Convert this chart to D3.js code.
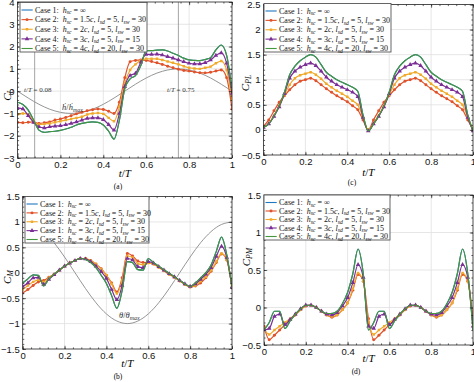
<!DOCTYPE html>
<html lang="en">
<head>
<meta charset="UTF-8">
<script src="https://cdn.jsdelivr.net/npm/d3@7"></script>
<style>
  body { margin: 0; background: #fff; }
  svg { display: block; font-family: "Liberation Serif", "DejaVu Serif", serif; }
  text { white-space: pre; }
</style>
</head>
<body>
<svg width="474" height="382"></svg>
<script>
// time grid shared by all case curves
const tGrid = [0,0.025,0.05,0.075,0.1,0.125,0.15,0.175,0.2,0.225,0.25,0.275,0.3,0.325,0.35,0.375,0.4,0.425,0.45,0.475,
  0.5,0.525,0.55,0.575,0.6,0.625,0.65,0.675,0.7,0.725,0.75,0.775,0.8,0.825,0.85,0.875,0.9,0.925,0.95,0.975,1];
const refT = [0,0.05,0.1,0.15,0.2,0.25,0.3,0.35,0.4,0.45,0.5,0.55,0.6,0.65,0.7,0.75,0.8,0.85,0.9,0.95,1];

// reference kinematics (grey curves)
const hdotRef = [0,-0.31,-0.59,-0.81,-0.95,-1,-0.95,-0.81,-0.59,-0.31,0,0.31,0.59,0.81,0.95,1,0.95,0.81,0.59,0.31,0];
const thetaRef = [1,0.95,0.81,0.59,0.31,0,-0.31,-0.59,-0.81,-0.95,-1,-0.95,-0.81,-0.59,-0.31,0,0.31,0.59,0.81,0.95,1];

// (a) lift coefficient C_L
const clCase1 = [-0.5,-0.6,-0.85,-1.3,-1.75,-1.85,-1.82,-1.8,-1.76,-1.7,-1.62,-1.52,-1.45,-1.4,-1.38,-1.4,-1.52,-1.8,-2.15,-1.3,
  0.1,0.55,0.7,1.15,1.82,1.82,1.84,1.85,1.8,1.7,1.6,1.48,1.4,1.38,1.37,1.42,1.5,1.85,2.07,1.6,0.05];
const clCase2 = [-1.4,-1.42,-1.4,-1.38,-1.45,-1.42,-1.38,-1.3,-1.25,-1.18,-1.1,-1.02,-0.95,-0.88,-0.83,-0.8,-0.82,-0.9,-1.0,-0.5,
  0.6,1.32,1.38,1.4,1.38,1.33,1.27,1.2,1.12,1.05,0.98,0.93,0.9,0.86,0.83,0.82,0.85,0.9,0.95,0.6,-0.8];
const clCase3 = [-1.05,-1.0,-1.05,-1.35,-1.5,-1.48,-1.45,-1.4,-1.35,-1.3,-1.25,-1.2,-1.15,-1.05,-1.0,-0.98,-1.02,-1.2,-1.35,-0.7,
  0.35,0.95,1.2,1.38,1.45,1.45,1.45,1.4,1.33,1.27,1.2,1.12,1.05,1.02,1.0,1.05,1.1,1.25,1.35,0.95,-0.4];
const clCase4 = [-0.75,-0.8,-1.1,-1.4,-1.6,-1.65,-1.6,-1.57,-1.55,-1.5,-1.45,-1.38,-1.3,-1.22,-1.2,-1.2,-1.28,-1.5,-1.75,-1.0,
  0.2,0.7,0.8,1.3,1.65,1.65,1.66,1.62,1.55,1.48,1.4,1.32,1.25,1.22,1.22,1.28,1.4,1.6,1.72,1.25,-0.1];
const clCase5 = [-0.5,-0.6,-0.85,-1.3,-1.75,-1.85,-1.82,-1.8,-1.76,-1.7,-1.62,-1.52,-1.45,-1.4,-1.38,-1.4,-1.52,-1.8,-2.15,-1.3,
  0.1,0.55,0.7,1.15,1.82,1.82,1.84,1.85,1.8,1.7,1.6,1.48,1.4,1.38,1.37,1.42,1.5,1.85,2.07,1.6,0.05];

// (c) lift power coefficient C_PL
const cplCase1 = [0.05,0.12,0.28,0.48,0.75,1.1,1.27,1.38,1.45,1.5,1.45,1.3,1.15,1.07,1.0,0.95,0.9,0.85,0.77,0.3,
  -0.02,0.12,0.28,0.48,0.75,1.1,1.27,1.38,1.45,1.5,1.45,1.3,1.15,1.07,1.0,0.95,0.9,0.85,0.77,0.3,-0.02];
const cplCase2 = [0.07,0.2,0.38,0.55,0.68,0.8,0.9,0.97,1.0,1.03,0.98,0.9,0.82,0.75,0.68,0.62,0.56,0.48,0.4,0.2,
  0.0,0.2,0.38,0.55,0.68,0.8,0.9,0.97,1.0,1.03,0.98,0.9,0.82,0.75,0.68,0.62,0.56,0.48,0.4,0.2,0.0];
const cplCase3 = [0.05,0.13,0.28,0.47,0.7,0.9,1.03,1.09,1.12,1.15,1.1,1.02,0.92,0.85,0.78,0.72,0.66,0.58,0.5,0.25,
  0.0,0.13,0.28,0.47,0.7,0.9,1.03,1.09,1.12,1.15,1.1,1.02,0.92,0.85,0.78,0.72,0.66,0.58,0.5,0.25,0.0];
const cplCase4 = [0.05,0.12,0.27,0.46,0.72,1.03,1.17,1.25,1.3,1.33,1.28,1.17,1.05,0.97,0.9,0.85,0.8,0.75,0.66,0.25,
  -0.02,0.12,0.27,0.46,0.72,1.03,1.17,1.25,1.3,1.33,1.28,1.17,1.05,0.97,0.9,0.85,0.8,0.75,0.66,0.25,-0.02];
const cplCase5 = [0.05,0.12,0.28,0.48,0.75,1.1,1.27,1.38,1.45,1.5,1.45,1.3,1.15,1.07,1.0,0.95,0.9,0.85,0.77,0.3,
  -0.02,0.12,0.28,0.48,0.75,1.1,1.27,1.38,1.45,1.5,1.45,1.3,1.15,1.07,1.0,0.95,0.9,0.85,0.77,0.3,-0.02];

// (b) moment coefficient C_M
const cmCase1 = [-0.2,-0.12,-0.04,-0.05,-0.26,-0.12,-0.03,0.05,0.13,0.19,0.24,0.28,0.26,0.2,0.1,-0.05,-0.21,-0.45,-0.7,-0.35,
  0.22,0.2,0.06,0.05,0.28,0.2,0.13,0.06,-0.01,-0.08,-0.15,-0.22,-0.27,-0.2,-0.1,0.0,0.15,0.42,0.7,0.35,-0.3];
const cmCase2 = [-0.4,-0.33,-0.25,-0.18,-0.15,-0.09,-0.03,0.05,0.13,0.19,0.24,0.28,0.28,0.24,0.17,0.08,-0.05,-0.2,-0.38,-0.1,
  0.38,0.33,0.23,0.2,0.2,0.17,0.11,0.04,-0.03,-0.09,-0.16,-0.23,-0.28,-0.26,-0.2,-0.1,0.03,0.2,0.37,0.25,-0.3];
const cmCase3 = [-0.33,-0.25,-0.18,-0.14,-0.18,-0.1,-0.03,0.05,0.13,0.19,0.24,0.28,0.28,0.24,0.17,0.07,-0.05,-0.22,-0.41,-0.15,
  0.33,0.3,0.18,0.16,0.19,0.17,0.11,0.04,-0.03,-0.09,-0.16,-0.23,-0.28,-0.25,-0.17,-0.08,0.05,0.22,0.38,0.25,-0.25];
const cmCase4 = [-0.27,-0.2,-0.1,-0.09,-0.23,-0.13,-0.04,0.05,0.13,0.19,0.24,0.28,0.27,0.22,0.13,0.02,-0.11,-0.33,-0.53,-0.25,
  0.28,0.25,0.12,0.1,0.22,0.19,0.12,0.05,-0.02,-0.08,-0.15,-0.22,-0.27,-0.22,-0.13,-0.03,0.1,0.32,0.52,0.3,-0.28];
const cmCase5 = [-0.2,-0.12,-0.04,-0.05,-0.26,-0.12,-0.03,0.05,0.13,0.19,0.24,0.28,0.26,0.2,0.1,-0.05,-0.21,-0.45,-0.7,-0.35,
  0.22,0.2,0.06,0.05,0.28,0.2,0.13,0.06,-0.01,-0.08,-0.15,-0.22,-0.27,-0.2,-0.1,0.0,0.15,0.42,0.7,0.35,-0.3];

// (d) moment power coefficient C_PM
const cpmCase1 = [-0.3,-0.2,-0.05,-0.05,-0.28,-0.18,-0.09,-0.02,0.03,0.03,0.0,-0.05,-0.08,-0.08,-0.05,0.05,0.2,0.45,0.78,0.45,
  -0.3,-0.2,-0.05,-0.05,-0.28,-0.18,-0.09,-0.02,0.03,0.03,0.0,-0.05,-0.08,-0.08,-0.05,0.05,0.2,0.45,0.78,0.45,-0.3];
const cpmCase2 = [-0.25,-0.43,-0.37,-0.3,-0.23,-0.16,-0.1,-0.03,0.02,0.03,0.0,-0.05,-0.1,-0.13,-0.1,-0.03,0.06,0.23,0.44,0.35,
  -0.15,-0.43,-0.37,-0.3,-0.23,-0.16,-0.1,-0.03,0.02,0.03,0.0,-0.05,-0.1,-0.13,-0.1,-0.03,0.06,0.23,0.44,0.35,-0.15];
const cpmCase3 = [-0.28,-0.36,-0.3,-0.25,-0.2,-0.15,-0.09,-0.03,0.02,0.03,0.0,-0.05,-0.1,-0.12,-0.1,-0.03,0.06,0.25,0.46,0.35,
  -0.2,-0.36,-0.3,-0.25,-0.2,-0.15,-0.09,-0.03,0.02,0.03,0.0,-0.05,-0.1,-0.12,-0.1,-0.03,0.06,0.25,0.46,0.35,-0.2];
const cpmCase4 = [-0.3,-0.28,-0.12,-0.09,-0.23,-0.16,-0.09,-0.02,0.03,0.03,0.0,-0.05,-0.09,-0.1,-0.07,0.02,0.13,0.33,0.57,0.4,
  -0.25,-0.28,-0.12,-0.09,-0.23,-0.16,-0.09,-0.02,0.03,0.03,0.0,-0.05,-0.09,-0.1,-0.07,0.02,0.13,0.33,0.57,0.4,-0.25];
const cpmCase5 = [-0.3,-0.2,-0.05,-0.05,-0.28,-0.18,-0.09,-0.02,0.03,0.03,0.0,-0.05,-0.08,-0.08,-0.05,0.05,0.2,0.45,0.78,0.45,
  -0.3,-0.2,-0.05,-0.05,-0.28,-0.18,-0.09,-0.02,0.03,0.03,0.0,-0.05,-0.08,-0.08,-0.05,0.05,0.2,0.45,0.78,0.45,-0.3];

// tick labels
const xTicks = [0, 0.2, 0.4, 0.6, 0.8, 1];
const yTicksCL = [-3, -2, -1, 0, 1, 2, 3, 4];
const yTicksCPL = [-0.5, 0, 0.5, 1, 1.5, 2, 2.5];
const yTicksCM = [-1.5, -1, -0.5, 0, 0.5, 1, 1.5];
const yTicksCPM = [-0.5, 0, 0.5, 1, 1.5];

// legend entries (markup: *italic*, _{subscript})
const legendMain = [
  "Case 1:  *h*_{sc} = ∞",
  "Case 2:  *h*_{sc} = 1.5*c*, *l*_{sd} = 5, *l*_{sw} = 30",
  "Case 3:  *h*_{sc} = 2*c*, *l*_{sd} = 5, *l*_{sw} = 30",
  "Case 4:  *h*_{sc} = 3*c*, *l*_{sd} = 5, *l*_{sw} = 15",
  "Case 5:  *h*_{sc} = 4*c*, *l*_{sd} = 20, *l*_{sw} = 30"
];
const legendB = [
  "Case 1:  *h*_{sc} = ∞",
  "Case 2:  *h*_{sc} = 1.5*c*, *l*_{sd} = 5, *l*_{sw} = 30",
  "Case 3:  *h*_{sc} = 2*c*, *l*_{sd} = 5, *l*_{sw} = 30",
  "Case 1:  *h*_{sc} = 3*c*, *l*_{sd} = 5, *l*_{sw} = 15",
  "Case 5:  *h*_{sc} = 4*c*, *l*_{sd} = 20, *l*_{sw} = 30"
];

const colors = ["#1f77c0", "#e0522a", "#f0a928", "#7b2f95", "#45963c"];
const markers = [null, d3.symbolCircle, d3.symbolSquare, d3.symbolTriangle, null];
const markerSize = [0, 7, 6, 9, 0];

const svg = d3.select("svg");

// small markup renderer: *italic* and _{subscript}
function rich(textSel, str, size) {
  const parts = str.split(/(\*[^*]+\*|_\{[^}]+\})/).filter(s => s.length);
  let shift = 0;
  parts.forEach(p => {
    let txt = p, italic = false, sub = false;
    if (p[0] === "*") { txt = p.slice(1, -1); italic = true; }
    else if (p.startsWith("_{")) { txt = p.slice(2, -1); italic = true; sub = true; }
    const want = sub ? size * 0.22 : 0;
    textSel.append("tspan")
      .attr("dy", want - shift)
      .style("font-style", italic ? "italic" : "normal")
      .style("font-size", (sub ? size * 0.7 : size) + "px")
      .text(txt);
    shift = want;
  });
}

function drawPanel(p) {
  const x = d3.scaleLinear().domain([0, 1]).range([p.left, p.right]);
  const y = d3.scaleLinear().domain(p.yDomain).range([p.bottom, p.top]);
  const g = svg.append("g");

  svg.append("clipPath").attr("id", "clip-" + p.id)
    .append("rect").attr("x", p.left).attr("y", p.top)
    .attr("width", p.right - p.left).attr("height", p.bottom - p.top);

  // grid
  g.append("g").selectAll("line").data(xTicks.slice(1, -1)).join("line")
    .attr("x1", d => x(d)).attr("x2", d => x(d))
    .attr("y1", p.top).attr("y2", p.bottom)
    .attr("stroke", "#e0e0e0").attr("stroke-width", 0.8);
  g.append("g").selectAll("line").data(p.yTicks.slice(1, -1)).join("line")
    .attr("x1", p.left).attr("x2", p.right)
    .attr("y1", d => y(d)).attr("y2", d => y(d))
    .attr("stroke", "#e0e0e0").attr("stroke-width", 0.8);

  const plot = g.append("g").attr("clip-path", `url(#clip-${p.id})`);

  // vertical markers
  (p.vlines || []).forEach(v => {
    plot.append("line").attr("x1", x(v)).attr("x2", x(v))
      .attr("y1", p.top).attr("y2", p.bottom)
      .attr("stroke", "#9a9a9a").attr("stroke-width", 0.9);
  });

  // reference curve
  if (p.ref) {
    const refLine = d3.line().x((d, i) => x(refT[i])).y(d => y(d)).curve(d3.curveNatural);
    plot.append("path").attr("d", refLine(p.ref))
      .attr("fill", "none").attr("stroke", "#8a8a8a").attr("stroke-width", 0.9);
  }

  // case curves
  const line = d3.line().x((d, i) => x(tGrid[i])).y(d => y(d)).curve(d3.curveMonotoneX);
  p.series.forEach((s, k) => {
    plot.append("path").attr("d", line(s))
      .attr("fill", "none").attr("stroke", colors[k]).attr("stroke-width", 1.2);
    if (markers[k]) {
      const sym = d3.symbol().type(markers[k]).size(markerSize[k]);
      plot.append("g").selectAll("path").data(s).join("path")
        .attr("transform", (d, i) => `translate(${x(tGrid[i])},${y(d)})`)
        .attr("d", sym).attr("fill", colors[k]);
    }
  });

  // annotations
  (p.notes || []).forEach(n => {
    const t = g.append("text").attr("x", n.x).attr("y", n.y).attr("fill", "#333");
    rich(t, n.text, n.size);
  });

  // axes (ticks inward on all sides)
  const xMinor = d3.range(0, 1.0001, 0.04);
  const yMinor = d3.range(p.yDomain[0], p.yDomain[1] + 1e-6, p.minor);
  const fmt = d => d3.format("")(d);
  const styleAxis = a => {
    a.select(".domain").remove();
    a.selectAll("line").attr("stroke", "#222").attr("stroke-width", 0.7);
    a.selectAll("text").attr("font-family", null).attr("font-size", null)
      .style("font-size", "9.5px").attr("fill", "#111");
  };
  g.append("g").attr("transform", `translate(0,${p.bottom})`)
    .call(d3.axisBottom(x).tickValues(xMinor).tickSize(-1.6).tickFormat("")).call(styleAxis);
  g.append("g").attr("transform", `translate(0,${p.bottom})`)
    .call(d3.axisBottom(x).tickValues(xTicks).tickSize(-3.2).tickPadding(3).tickFormat(fmt)).call(styleAxis);
  g.append("g").attr("transform", `translate(0,${p.top})`)
    .call(d3.axisTop(x).tickValues(xMinor).tickSize(-1.6).tickFormat("")).call(styleAxis);
  g.append("g").attr("transform", `translate(0,${p.top})`)
    .call(d3.axisTop(x).tickValues(xTicks).tickSize(-3.2).tickFormat("")).call(styleAxis);
  g.append("g").attr("transform", `translate(${p.left},0)`)
    .call(d3.axisLeft(y).tickValues(yMinor).tickSize(-1.6).tickFormat("")).call(styleAxis);
  g.append("g").attr("transform", `translate(${p.left},0)`)
    .call(d3.axisLeft(y).tickValues(p.yTicks).tickSize(-3.2).tickPadding(3).tickFormat(fmt)).call(styleAxis);
  g.append("g").attr("transform", `translate(${p.right},0)`)
    .call(d3.axisRight(y).tickValues(yMinor).tickSize(-1.6).tickFormat("")).call(styleAxis);
  g.append("g").attr("transform", `translate(${p.right},0)`)
    .call(d3.axisRight(y).tickValues(p.yTicks).tickSize(-3.2).tickFormat("")).call(styleAxis);

  g.append("rect").attr("x", p.left).attr("y", p.top)
    .attr("width", p.right - p.left).attr("height", p.bottom - p.top)
    .attr("fill", "none").attr("stroke", "#222").attr("stroke-width", 0.8);

  // axis titles
  const xt = g.append("text").attr("x", (p.left + p.right) / 2).attr("y", p.xTitleY)
    .attr("text-anchor", "middle");
  rich(xt, "*t*/*T*", 11);
  const yt = g.append("text")
    .attr("transform", `translate(${p.yTitleX},${p.yTitleY}) rotate(-90)`)
    .attr("text-anchor", "middle");
  rich(yt, p.yTitle, 11);
  g.append("text").attr("x", p.tagX).attr("y", p.tagY).attr("text-anchor", "middle")
    .style("font-size", "7.5px").text(p.tag);

  // legend
  const L = p.legend;
  const lg = g.append("g").attr("transform", `translate(${L.x},${L.y})`);
  lg.append("rect").attr("width", L.w).attr("height", L.h)
    .attr("fill", "#fff").attr("stroke", "#555").attr("stroke-width", 0.9);
  L.labels.forEach((lab, k) => {
    const ry = 7.5 + k * (L.h - 11) / 4;
    lg.append("line").attr("x1", 1.5).attr("x2", 12.7).attr("y1", ry).attr("y2", ry)
      .attr("stroke", colors[k]).attr("stroke-width", 1.1);
    if (markers[k]) {
      lg.append("path").attr("transform", `translate(7,${ry})`)
        .attr("d", d3.symbol().type(markers[k]).size(markerSize[k])).attr("fill", colors[k]);
    }
    const t = lg.append("text").attr("x", 15).attr("y", ry + 2.7).attr("fill", "#111");
    rich(t, lab, 8.0);
  });
}

drawPanel({
  id: "a", left: 17.5, right: 232, top: 2, bottom: 158, yDomain: [-3, 4], yTicks: yTicksCL, minor: 0.2,
  series: [clCase1, clCase2, clCase3, clCase4, clCase5], ref: hdotRef, vlines: [0.08, 0.75],
  notes: [
    { x: 24, y: 92, text: "*t*/*T* = 0.08", size: 7 },
    { x: 167, y: 92, text: "*t*/*T* = 0.75", size: 7 },
    { x: 62, y: 110, text: "*ḣ*/*ḣ*_{max}", size: 8.5 }
  ],
  xTitleY: 177, yTitleX: 10.5, yTitleY: 95, yTitle: "*C*_{L}", tag: "(a)", tagX: 118, tagY: 189,
  legend: { x: 20, y: 2.5, w: 127, h: 49.5, labels: legendMain }
});
drawPanel({
  id: "c", left: 263.5, right: 473, top: 4.5, bottom: 155, yDomain: [-0.5, 2.5], yTicks: yTicksCPL, minor: 0.1,
  series: [cplCase1, cplCase2, cplCase3, cplCase4, cplCase5],
  xTitleY: 176, yTitleX: 249, yTitleY: 83, yTitle: "*C*_{PL}", tag: "(c)", tagX: 352, tagY: 185,
  legend: { x: 264, y: 3.5, w: 127, h: 48.5, labels: legendMain }
});
drawPanel({
  id: "b", left: 22.7, right: 232, top: 196.5, bottom: 349, yDomain: [-1.5, 1.5], yTicks: yTicksCM, minor: 0.1,
  series: [cmCase1, cmCase2, cmCase3, cmCase4, cmCase5], ref: thetaRef,
  notes: [ { x: 119, y: 318, text: "*θ*/*θ*_{max}", size: 8.5 } ],
  xTitleY: 367, yTitleX: 10.5, yTitleY: 277, yTitle: "*C*_{M}", tag: "(b)", tagX: 118, tagY: 379,
  legend: { x: 25, y: 196.5, w: 124, h: 46.5, labels: legendB }
});
drawPanel({
  id: "d", left: 264, right: 473, top: 195, bottom: 345, yDomain: [-0.5, 1.5], yTicks: yTicksCPM, minor: 0.1,
  series: [cpmCase1, cpmCase2, cpmCase3, cpmCase4, cpmCase5],
  xTitleY: 362, yTitleX: 250, yTitleY: 257, yTitle: "*C*_{PM}", tag: "(d)", tagX: 356, tagY: 374,
  legend: { x: 264, y: 195, w: 126, h: 45, labels: legendMain }
});
</script>
</body>
</html>
